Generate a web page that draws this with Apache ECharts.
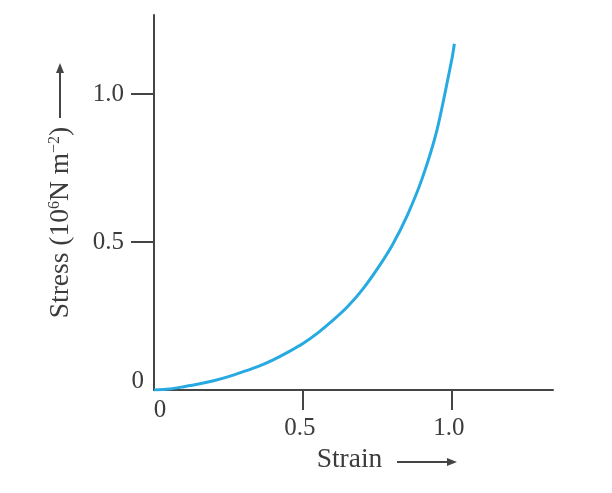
<!DOCTYPE html>
<html>
<head>
<meta charset="utf-8">
<script src="https://cdn.jsdelivr.net/npm/echarts@6/dist/echarts.min.js"></script>
<style>html,body{margin:0;padding:0;background:#fff}#c{width:612px;height:493px}</style>
</head>
<body>
<div id="c"></div>
<script>
const strain = [0, 0.05, 0.1, 0.15, 0.2, 0.25, 0.3, 0.35, 0.4, 0.45, 0.5, 0.55, 0.6, 0.65, 0.7, 0.75, 0.8, 0.85, 0.9, 0.95, 1.0, 1.008];
const stress = [0, 0.003, 0.011, 0.020, 0.031, 0.045, 0.062, 0.080, 0.102, 0.128, 0.157, 0.193, 0.235, 0.282, 0.34, 0.41, 0.49, 0.59, 0.715, 0.88, 1.12, 1.17];
const xTickValues = [0.5, 1.0];
const yTickValues = [0.5, 1.0];
const xLabelValues = [0, 0.5, 1.0];
const yLabelValues = [0, 0.5, 1.0];
const xAxisName = 'Strain';
const yAxisName = 'Stress';

const FONT = 'Liberation Serif';
const TXT = '#3c3c3c';
const AX = '#454545';

const chart = echarts.init(document.getElementById('c'), null, {renderer: 'canvas'});
chart.setOption({
  animation: false,
  backgroundColor: '#ffffff',
  grid: {left: 154, right: 59, top: 15, bottom: 103},
  xAxis: {
    type: 'value', min: 0, max: 1.339,
    name: xAxisName, nameLocation: 'middle', nameGap: 54,
    nameTextStyle: {fontFamily: FONT, fontSize: 27.5, color: TXT, padding: [0, 8, 0, 0]},
    axisLine: {show: true, onZero: false, lineStyle: {color: AX, width: 2}},
    axisTick: {show: true, customValues: xTickValues, length: 20, lineStyle: {color: AX, width: 2}},
    splitLine: {show: false},
    axisLabel: {
      customValues: xLabelValues, margin: 8,
      fontFamily: FONT, fontSize: 25, color: TXT,
      formatter: v => v === 0 ? '{z|0}' : '{n|' + v.toFixed(1) + '}',
      rich: {
        z: {fontFamily: FONT, fontSize: 25, color: TXT, padding: [0, 0, 0, 12]},
        n: {fontFamily: FONT, fontSize: 25, color: TXT, padding: [18, 6, 0, 0]}
      }
    }
  },
  yAxis: {
    type: 'value', min: 0, max: 1.267,
    name: '{t|' + yAxisName + ' (10}{s|6}{t|N m}{s|\u22122}{t|)}', nameLocation: 'middle', nameGap: 79, nameRotate: 90,
    nameTextStyle: {
      fontFamily: FONT, fontSize: 27.5, color: TXT, padding: [0, 40, 0, 0],
      rich: {
        t: {fontFamily: FONT, fontSize: 27.5, color: TXT},
        s: {fontFamily: FONT, fontSize: 16, color: TXT, verticalAlign: 'top'}
      }
    },
    axisLine: {show: true, onZero: false, lineStyle: {color: AX, width: 2}},
    axisTick: {show: true, customValues: yTickValues, length: 23, lineStyle: {color: AX, width: 2}},
    splitLine: {show: false},
    axisLabel: {
      customValues: yLabelValues, margin: 10,
      fontFamily: FONT, fontSize: 25, color: TXT,
      formatter: v => v === 0 ? '{z|0}' : '{n|' + v.toFixed(1) + '}',
      rich: {
        z: {fontFamily: FONT, fontSize: 25, color: TXT, padding: [0, 0, 18, 0]},
        n: {fontFamily: FONT, fontSize: 25, color: TXT, padding: [0, 20, 0, 0]}
      }
    }
  },
  series: [{
    type: 'line',
    data: strain.map((x, i) => [x, stress[i]]),
    showSymbol: false,
    smooth: 0.25,
    lineStyle: {color: '#27aae1', width: 3},
    z: 5
  }],
  graphic: [
    {type: 'line', shape: {x1: 60, y1: 118, x2: 60, y2: 70}, style: {stroke: AX, lineWidth: 2}},
    {type: 'polygon', shape: {points: [[60, 63], [56, 73], [64, 73]]}, style: {fill: AX}},
    {type: 'line', shape: {x1: 397, y1: 462, x2: 450, y2: 462}, style: {stroke: AX, lineWidth: 2}},
    {type: 'polygon', shape: {points: [[457, 462], [447, 458], [447, 466]]}, style: {fill: AX}}
  ]
});
</script>
</body>
</html>
